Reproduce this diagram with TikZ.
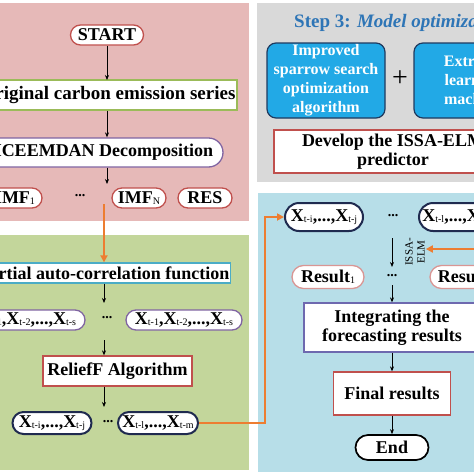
\documentclass[tikz,border=0pt]{standalone}
\usepackage{fontspec}
\setmainfont{Liberation Serif}
\usetikzlibrary{arrows.meta}
\definecolor{pinkbg}{HTML}{E6B9B8}
\definecolor{graybg}{HTML}{D9D9D9}
\definecolor{greenbg}{HTML}{C3D69B}
\definecolor{bluebg}{HTML}{B7DEE8}
\definecolor{redb}{HTML}{C0504D}
\definecolor{oliveb}{HTML}{9BBB59}
\definecolor{purpb}{HTML}{8064A2}
\definecolor{tealb}{HTML}{4BACC6}
\definecolor{navyb}{HTML}{1F2A4F}
\definecolor{roseb}{HTML}{D99694}
\definecolor{integb}{HTML}{6E69AF}
\definecolor{cyanf}{HTML}{22A9E6}
\definecolor{navyd}{HTML}{1F3A5F}
\definecolor{titleblue}{HTML}{2E75B6}
\definecolor{orng}{HTML}{ED7D31}
\newcommand\fsz[2]{\fontsize{#1}{#2}\selectfont}
\newcommand\sbx[1]{\raisebox{-1pt}{\fsz{10}{10}\mdseries #1}}
\newcommand\xv[1]{X\sbx{#1}}
\begin{document}
\begin{tikzpicture}[x=1pt,y=-1pt,
  base/.style={draw, fill=white, line width=1.3pt, font=\fsz{18}{19}\bfseries, inner sep=1.5pt, align=center},
  pill/.style={base, rounded corners=#1},
  dotsn/.style={font=\fsz{14}{14}\bfseries, inner sep=0pt},
  blk/.style={-{Stealth[length=5pt,width=4pt]}, line width=0.7pt},
  orarrow/.style={draw=orng, line width=1.8pt, -{Triangle[length=7pt,width=7pt]}},
  gbox/.style={draw=navyd, fill=cyanf, line width=1.2pt, rounded corners=9pt, minimum width=118pt, minimum height=75pt, text=white, font=\fsz{16}{19}\bfseries, align=center, inner sep=1pt}
]
\useasboundingbox (0,0) rectangle (474,474);
% panels
\fill[pinkbg] (-5,3) rectangle (249,221);
\fill[graybg] (257,3) rectangle (480,182);
\fill[greenbg] (-5,235) rectangle (249,470);
\fill[bluebg] (258,193) rectangle (480,472);

% pink panel
\node[pill=10pt, draw=redb, minimum width=73pt, minimum height=20pt] (start) at (107,35) {START};
\node[base, draw=oliveb, minimum height=30pt, font=\fsz{19}{20}\bfseries] (orig) at (108,95) {Original carbon emission series};
\node[pill=14.5pt, draw=purpb, minimum width=238pt, minimum height=29pt] (cee) at (104,152.5) {ICEEMDAN Decomposition};
\coordinate (c0) at (107,80);
\coordinate (c1) at (107,184);
\draw[blk] (start) -- (c0);
\draw[blk] (c0 |- orig.south) -- (c0 |- cee.north);
\draw[blk] (c1 |- cee.south) -- (c1);
\node[pill=10pt, draw=redb, minimum width=54pt, minimum height=20pt] (imf1) at (15,198) {IMF\sbx{1}};
\node[dotsn] (d1) at (80,196) {...};
\node[pill=10pt, draw=redb, minimum width=54pt, minimum height=20pt] (imfn) at (139,198) {IMF\sbx{N}};
\node[pill=10pt, draw=redb, minimum width=54pt, minimum height=20pt] (res) at (205,198) {RES};

% green panel
\node[base, draw=tealb, minimum height=20pt] (pacf) at (104,273) {Partial auto-correlation function};
\coordinate (o1) at (104,204);
\draw[orarrow] (o1) -- (o1 |- pacf.north);
\coordinate (c2) at (104,303);
\draw[blk] (c2 |- pacf.south) -- (c2);
\node[pill=10pt, draw=purpb, minimum width=116pt, minimum height=20pt] (xa) at (27,320) {\xv{t-1},\xv{t-2},...,\xv{t-s}};
\node[dotsn] (d2) at (107,318) {...};
\node[pill=10pt, draw=purpb, minimum width=116pt, minimum height=20pt] (xb) at (184,320) {\xv{t-1},\xv{t-2},...,\xv{t-s}};
\node[base, draw=redb, minimum width=149pt, minimum height=30pt] (relief) at (117.5,371) {ReliefF Algorithm};
\coordinate (c3) at (104,340);
\draw[blk] (c3) -- (c3 |- relief.north);
\coordinate (c4) at (104,407);
\draw[blk] (c4 |- relief.south) -- (c4);
\node[pill=11pt, draw=navyb, line width=2pt, minimum width=79pt, minimum height=22pt] (xc) at (52,423) {\xv{t-i},...,\xv{t-j}};
\node[dotsn] (d3) at (108,422) {...};
\node[pill=11pt, draw=navyb, line width=2pt, minimum width=80pt, minimum height=22pt] (xd) at (158,423) {\xv{t-l},...,\xv{t-m}};

% blue panel
\node[pill=14pt, draw=navyb, line width=2pt, minimum width=78pt, minimum height=28pt] (xe) at (324,217) {\xv{t-i},...,\xv{t-j}};
\node[dotsn] (d4) at (393,216) {...};
\node[pill=14pt, draw=navyb, line width=2pt, minimum width=78pt, minimum height=28pt] (xf) at (458,217) {\xv{t-l},...,\xv{t-m}};
\coordinate (t2) at (265,217);
\draw[orarrow] (xd.east) -| (t2) -- (xe.west);
\coordinate (c5) at (392,238);
\coordinate (c6) at (392,267);
\draw[blk] (c5) -- (c6);
\node[rotate=90, font=\fsz{11}{12}, align=center, inner sep=1pt] (lbl) at (415,252) {ISSA-\\ELM};
\coordinate (o2) at (480,249);
\draw[orarrow] (o2) -- (o2 -| lbl.south);
\node[pill=11.5pt, draw=roseb, minimum width=72pt, minimum height=23pt] (r1) at (328,277) {Result\sbx{1}};
\node[dotsn] (d5) at (392,276) {...};
\node[pill=11.5pt, draw=roseb, minimum width=72pt, minimum height=23pt] (rn) at (466,277) {Result\sbx{N}};
\node[base, draw=integb, minimum width=176pt, minimum height=49pt] (integ) at (392,327.5) {Integrating the\\forecasting results};
\coordinate (c7) at (392,285);
\draw[blk] (c7) -- (integ);
\node[base, draw=redb, minimum width=117pt, minimum height=43pt] (final) at (392,393.5) {Final results};
\node[pill=12.5pt, draw=black, line width=1.7pt, minimum width=73pt, minimum height=25pt] (endn) at (392,447.5) {End};
\draw[blk] (integ) -- (final);
\draw[blk] (final) -- (endn);

% gray panel
\node[anchor=west, font=\fsz{19}{20}\bfseries, text=titleblue, inner sep=0pt] (title) at (294,23) {Step 3: \textit{Model optimization}};
\node[gbox] (issa) at (326,80.5) {Improved\\sparrow search\\optimization\\algorithm};
\node[font=\fsz{28}{28}, inner sep=0pt] (plus) at (400,79) {+};
\node[gbox] (elm) at (473,80.5) {Extreme\\learning\\machine};
\node[base, draw=redb, minimum width=238pt, minimum height=43pt] (dev) at (393,151.5) {Develop the ISSA-ELM\\predictor};
\end{tikzpicture}
\end{document}
